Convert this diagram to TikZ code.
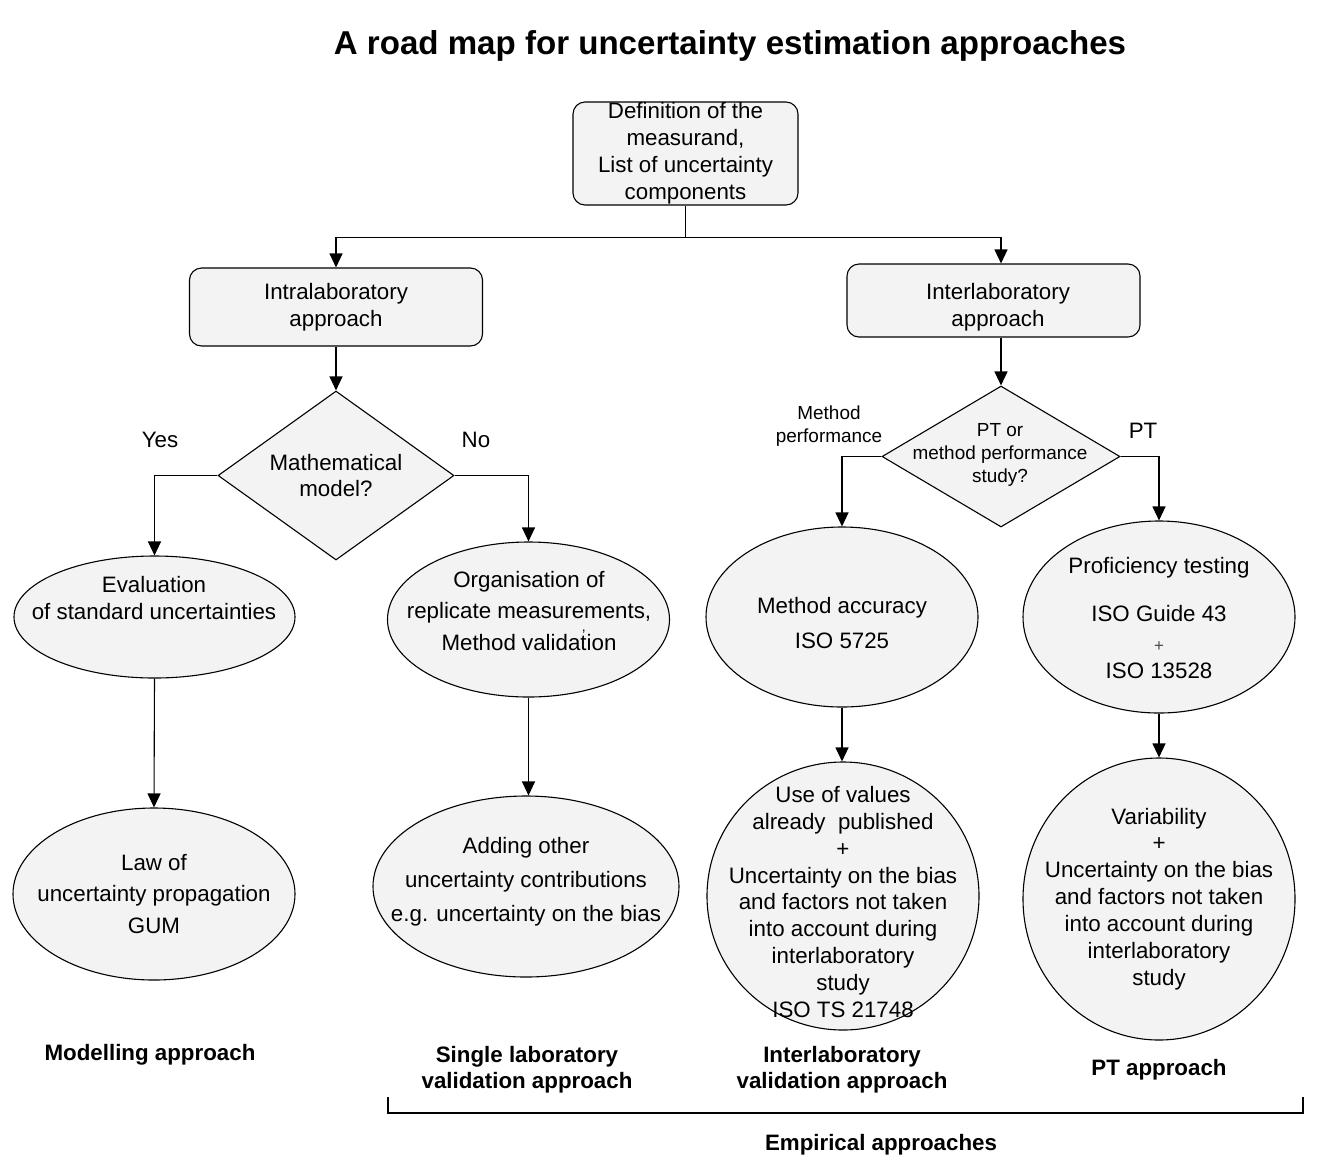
\documentclass[tikz,border=0pt]{standalone}
\usepackage{fontspec}
\setmainfont{Liberation Sans}
\usetikzlibrary{shapes.geometric,arrows.meta}

\definecolor{shapegray}{HTML}{F3F3F3}
\newcommand*{\bodysize}{\fontsize{22.4}{27}\selectfont}
\newcommand*{\smallsize}{\fontsize{19}{23}\selectfont}
\newcommand*{\headsize}{\fontsize{22.4}{26}\selectfont\bfseries}
\newcommand*{\straycomma}{\rlap{\hspace{10bp}\smash{\raisebox{-13bp}{\fontsize{14}{14}\selectfont,}}}}

\begin{document}
\begin{tikzpicture}
[
	x=1bp,
	y=-1bp,
	rbox/.style={rectangle,rounded corners=12bp,draw,fill=shapegray,line width=1.1bp},
	decision/.style={diamond,draw,fill=shapegray,line width=1.1bp,inner sep=0pt},
	oval/.style={ellipse,draw,fill=shapegray,line width=1.1bp,inner sep=0pt},
	txt/.style={align=center,font=\bodysize,inner sep=0pt},
	head/.style={align=center,font=\headsize,inner sep=0pt},
	arr/.style={line width=1.1bp,-{Triangle[length=14bp,width=13bp]}}
]

	\useasboundingbox (0,0) rectangle (1320,1171);

	\node[font=\fontsize{33.2}{40}\selectfont\bfseries] (title) at (730,46) {A road map for uncertainty estimation approaches};

	% boxes and decisions
	\node[rbox,minimum width=225bp,minimum height=103bp] (def) at (685.5,153.5) {};
	\node[txt] (def-t) at (def.center) {Definition of the\\measurand,\\List of uncertainty\\components};

	\node[rbox,minimum width=293bp,minimum height=78bp] (intra) at (336,307) {};
	\node[txt] (intra-t) at (intra.center) {Intralaboratory\\approach};

	\node[rbox,minimum width=293bp,minimum height=73bp] (inter) at (993.5,300.5) {};
	\node[txt] (inter-t) at (998,307) {Interlaboratory\\approach};

	\node[decision,minimum width=236bp,minimum height=169bp] (dec1) at (336,475.5) {};
	\node[txt] (dec1-t) at (dec1.center) {Mathematical\\model?};

	\node[decision,minimum width=238bp,minimum height=141bp] (dec2) at (1001,456.5) {};
	\node[txt,font=\smallsize] (dec2-t) at (1000,455) {PT or\\method performance\\study?};

	% modelling branch
	\node[oval,minimum width=281bp,minimum height=122bp] (eval) at (154.5,617) {};
	\node[txt] (eval-t) at (154,598) {Evaluation\\of standard uncertainties};

	\node[oval,minimum width=282bp,minimum height=172bp] (law) at (154,894) {};
	\node[txt,font=\fontsize{22.4}{32}\selectfont] (law-t) at (law.center) {Law of\\uncertainty propagation\\GUM};

	% single laboratory branch
	\node[oval,minimum width=282bp,minimum height=155bp] (org) at (528.5,619.5) {};
	\node[txt,font=\fontsize{22.4}{32}\selectfont] (org-t) at (529,611) {Organisation of\\replicate measur\straycomma ements,\\Method validation};

	\node[oval,minimum width=306bp,minimum height=181bp] (add) at (526,886.5) {};
	\node[txt,font=\fontsize{22.4}{34}\selectfont] (add-t) at (526,882) {Adding other\\uncertainty contributions\\e.g. uncertainty on the bias};

	% interlaboratory branch
	\node[oval,minimum width=272bp,minimum height=180bp] (acc) at (842,617) {};
	\node[txt,font=\fontsize{22.4}{36}\selectfont] (acc-t) at (842,623) {Method accuracy\\ISO 5725};

	\node[oval,minimum width=272bp,minimum height=268bp] (use) at (843,896) {};
	\node[txt] (use-t) at (843,902) {Use of values\\already\ \ published\\+\\Uncertainty on the bias\\and factors not taken\\into account during\\interlaboratory\\study\\ISO TS 21748};

	% PT branch
	\node[oval,minimum width=272bp,minimum height=192bp] (pt) at (1159,617) {};
	\node[txt] (pt-t) at (1159,618) {Proficiency testing\\[21bp]ISO Guide 43\\[4bp]{\fontsize{17}{17}\selectfont\color{black!70}+}\\ISO 13528};

	\node[oval,minimum width=272bp,minimum height=282bp] (var) at (1159,899) {};
	\node[txt] (var-t) at (var.center) {Variability\\+\\Uncertainty on the bias\\and factors not taken\\into account during\\interlaboratory\\study};

	% connectors
	\draw[line width=1.1bp] (def.south) -- ++(0,32) coordinate (split);
	\draw[arr] (split) -| (intra.north);
	\draw[arr] (split) -| (dec2.north |- inter.north);
	\draw[arr] (intra.south) -- (dec1.north);
	\draw[arr] (dec2.north |- inter.south) -- (dec2.north);
	\draw[arr] (dec1.west) -| (eval.north);
	\draw[arr] (dec1.east) -| (org.north);
	\draw[arr] (dec2.west) -| (acc.north);
	\draw[arr] (dec2.east) -| (pt.north);
	\draw[arr] (eval.south) -- (law.north);
	\draw[arr] (org.south) -- (org.south |- add.north);
	\draw[arr] (acc.south) -- (acc.south |- use.north);
	\draw[arr] (pt.south) -- (var.north);

	% branch labels
	\node[txt] (yes) at (160,440) {Yes};
	\node[txt] (no) at (476,440) {No};
	\node[txt,font=\smallsize] (methperf) at (829,426) {Method\\performance};
	\node[txt] (ptlab) at (1143,431) {PT};

	% approaches
	\node[head] (modelling) at (150,1055) {Modelling approach};
	\node[head] (single) at (527,1070) {Single laboratory\\validation approach};
	\node[head] (interval) at (842,1070) {Interlaboratory\\validation approach};
	\node[head] (ptappr) at (1159,1070) {PT approach};

	\draw[line width=1.5bp] (388,1097) |- (1303,1113) -- (1303,1097);
	\node[head] (empirical) at (881,1145) {Empirical approaches};

\end{tikzpicture}
\end{document}
